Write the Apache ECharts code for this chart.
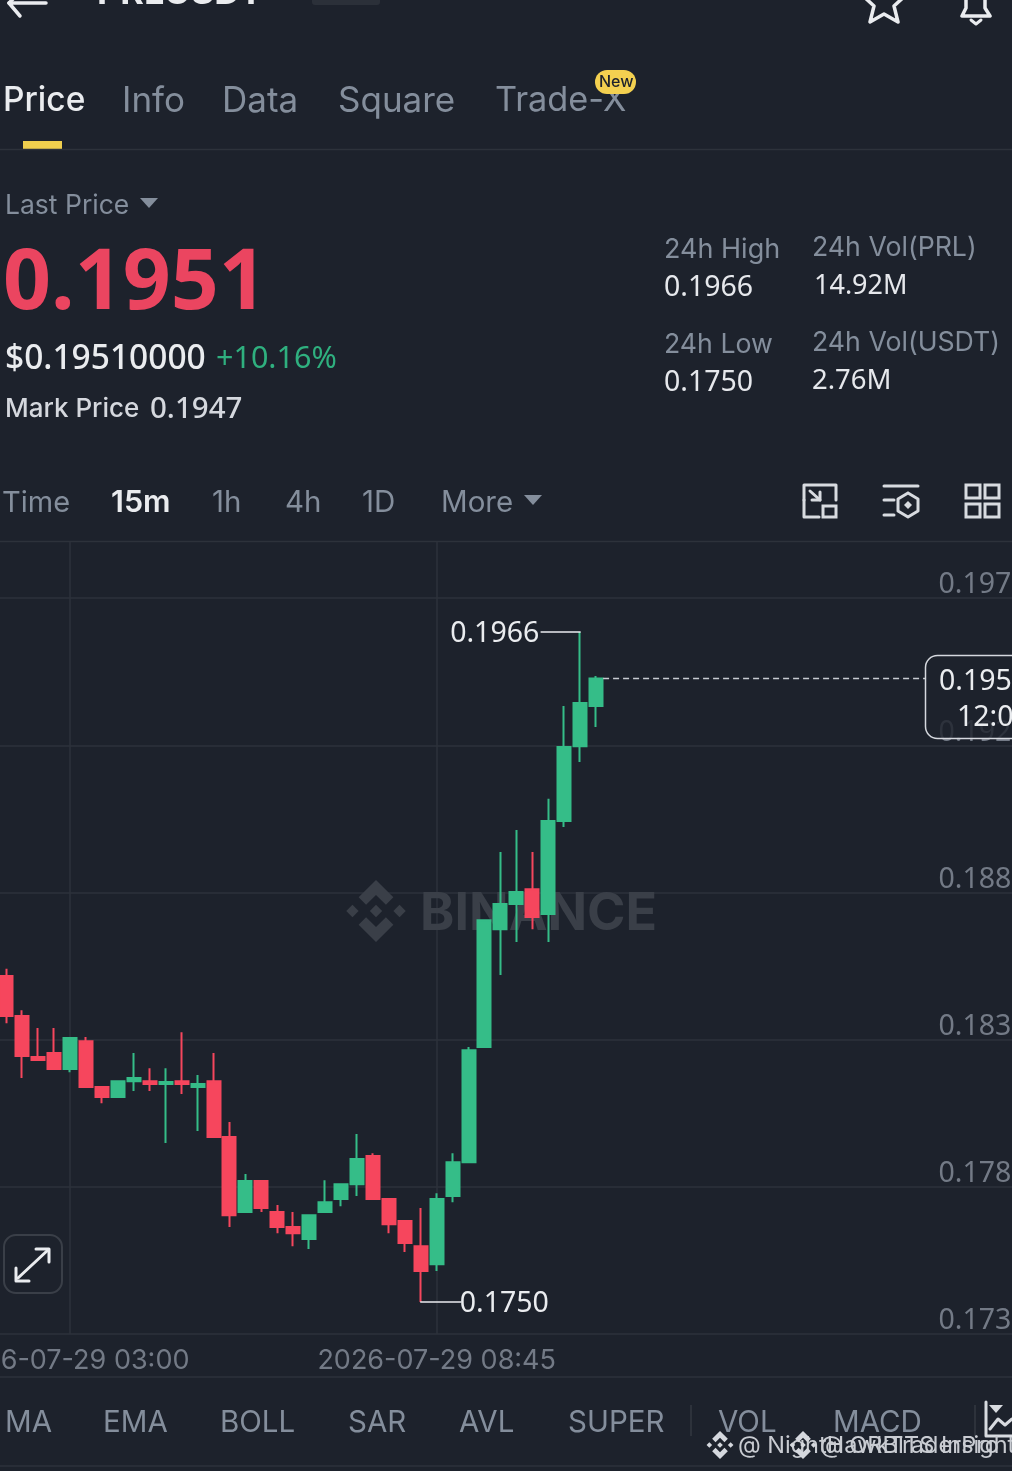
<!DOCTYPE html>
<html><head><meta charset="utf-8">
<style>html,body{margin:0;padding:0;background:#1D222C;overflow:hidden}#c{width:1012px;height:1471px}</style>
<script src="https://cdn.jsdelivr.net/npm/echarts@6/dist/echarts.min.js"></script>
</head><body><div id="c"></div>
<script>
const times = ['02:00','02:15','02:30','02:45','03:00','03:15','03:30','03:45','04:00','04:15','04:30','04:45','05:00','05:15','05:30','05:45','06:00','06:15','06:30','06:45','07:00','07:15','07:30','07:45','08:00','08:15','08:30','08:45','09:00','09:15','09:30','09:45','10:00','10:15','10:30','10:45','11:00','11:15'];
const opens  = [.18551,.18422,.18290,.18303,.18251,.18341,.18193,.18161,.18212,.18212,.18203,.18212,.18193,.18212,.18032,.17790,.17890,.17790,.17742,.17703,.17790,.17832,.17880,.17971,.17832,.17761,.17680,.17622,.17842,.17951,.18322,.18702,.18783,.18831,.18751,.19051,.19292,.19421];
const closes = [.18422,.18293,.18280,.18251,.18351,.18193,.18161,.18212,.18222,.18203,.18209,.18203,.18203,.18032,.17780,.17890,.17803,.17742,.17722,.17780,.17822,.17880,.17961,.17832,.17751,.17690,.17600,.17832,.17951,.18312,.18731,.18783,.18822,.18741,.19051,.19289,.19431,.19510];
const lows   = [.18399,.18222,.18280,.18251,.18241,.18193,.18141,.18161,.18180,.18180,.18013,.18171,.18051,.18032,.17742,.17790,.17790,.17722,.17680,.17671,.17790,.17809,.17842,.17832,.17722,.17661,.17500,.17600,.17822,.17951,.18322,.18554,.18661,.18702,.18661,.19031,.19241,.19354];
const highs  = [.18574,.18441,.18383,.18383,.18351,.18354,.18193,.18212,.18303,.18254,.18254,.18370,.18232,.18303,.18080,.17913,.17890,.17813,.17790,.17780,.17893,.17880,.18042,.17980,.17832,.17761,.17803,.17851,.17980,.18322,.18731,.18951,.19022,.18951,.19122,.19421,.19660,.19518];
const yTickValues = [.17397,.17871,.18345,.18819,.19293,.19770];
const yTickLabels = ['0.173','0.178','0.183','0.188','0.192','0.197'];
const dateLabelIdx = [4,27];
const tabs = [['Price',3,'#EAECEF'],['Info',122,'#848E9C'],['Data',222,'#848E9C'],['Square',338,'#848E9C'],['Trade-X',495,'#848E9C']];
const intervals = [['15m',111],['1h',212],['4h',285],['1D',362],['More',441]];
const indicators = [['MA',5],['EMA',103],['BOLL',220],['SAR',348],['AVL',459],['SUPER',568],['VOL',718],['MACD',833]];

const BG='#1D222C',RED='#F6465D',GREEN='#35BD88',GRAY='#848E9C',WHITE='#E6E8EC',LINE='#2D323B',AXISTXT='#737A86';
const FONT='Inter, "Noto Sans", sans-serif', NUM='"Noto Sans", sans-serif';
const cats = times.map(t=>'2026-07-29 '+t);
while(cats.length<64) cats.push('');
const candle = times.map((_,i)=>[opens[i],closes[i],lows[i],highs[i]]);
const step=15.94, firstX=6.3;
const chart = echarts.init(document.getElementById('c'),null,{renderer:'canvas'});
chart.setOption({
  animation:false, backgroundColor:BG,
  grid:{left:firstX-step/2,top:542,width:step*64,height:792,containLabel:false,outerBoundsMode:'none'},
  xAxis:{type:'category',data:cats,boundaryGap:true,
    axisLine:{show:false},axisTick:{show:false},
    splitLine:{show:true,alignWithLabel:true,interval:i=>dateLabelIdx.includes(i),lineStyle:{color:LINE,width:1.5}},
    axisLabel:{interval:i=>dateLabelIdx.includes(i),margin:13,fontSize:27,color:AXISTXT,fontFamily:FONT,hideOverlap:false}},
  yAxis:{type:'value',position:'right',min:.17397,max:.1995,scale:true,
    axisLine:{show:false},
    axisTick:{show:false,customValues:yTickValues},
    splitLine:{show:true,lineStyle:{color:LINE,width:1.5}},
    axisLabel:{inside:true,customValues:yTickValues,margin:80,align:'left',verticalAlign:'bottom',lineHeight:26,fontSize:28.5,color:AXISTXT,fontFamily:NUM,
      formatter:v=>yTickLabels[yTickValues.indexOf(v)]||''}},
  series:[{type:'candlestick',data:candle,barWidth:13.5,clip:false,
    itemStyle:{color:GREEN,color0:RED,borderColor:GREEN,borderColor0:RED,borderWidth:2,opacity:1}}]
});

const els=[];
function T(text,x,y,size,fill,weight,z){els.push({type:'text',z:z==null?10:z,style:{text,x,y:y+2,fontSize:size,fontFamily:FONT,fontWeight:weight||400,fill,align:'left',verticalAlign:'middle'}});}
function N(text,x,y,size,fill,weight){els.push({type:'text',z:10,style:{text,x,y:y+2,fontSize:size,fontFamily:NUM,fontWeight:weight||400,fill,align:'left',verticalAlign:'middle'}});}
function PL(points,stroke,w,extra){els.push({type:'polyline',z:10,shape:{points},style:Object.assign({stroke,lineWidth:w,fill:null,lineCap:'round',lineJoin:'round'},extra||{})});}
function PG(points,fill,z){els.push({type:'polygon',z:z==null?10:z,shape:{points},style:{fill}});}
function R(x,y,w,h,r,style,z){els.push({type:'rect',z:z==null?10:z,shape:{x,y,width:w,height:h,r},style});}
function HL(y,c){els.push({type:'line',z:10,shape:{x1:0,y1:y,x2:1012,y2:y},style:{stroke:c||LINE,lineWidth:1.5}});}
function logo(cx,cy,s,fill,z){
  const d=(x,y,r)=>PG([[x-r,y],[x,y-r],[x+r,y],[x,y+r]],fill,z);
  d(cx,cy,s*.2); d(cx-s*.76,cy,s*.2); d(cx+s*.76,cy,s*.2);
  PG([[cx,cy-s],[cx+s*.56,cy-s*.44],[cx+s*.32,cy-s*.2],[cx,cy-s*.52],[cx-s*.32,cy-s*.2],[cx-s*.56,cy-s*.44]],fill,z);
  PG([[cx,cy+s],[cx+s*.56,cy+s*.44],[cx+s*.32,cy+s*.2],[cx,cy+s*.52],[cx-s*.32,cy+s*.2],[cx-s*.56,cy+s*.44]],fill,z);
}
// top bar (cut by the top edge)
PL([[46,3],[9,3],[20,16]],'#EAECEF',3.5);
PL([[9,3],[22,-10]],'#EAECEF',3.5);
T('PRLUSDT',97,-9,36,'#EAECEF',700);
R(312,-20,68,25,3,{fill:'#2B3039'});
PL([[884,-22],[890,-6],[906,-5],[894,6],[898,22],[884,14],[870,22],[874,6],[862,-5],[878,-6],[884,-22]],'#EAECEF',3.5);
PL([[962,16],[966,8],[966,-6],[985,-6],[985,8],[990,16],[962,16]],'#EAECEF',3.5);
PL([[971,20],[976,24],[981,20]],'#EAECEF',3);
// tabs
tabs.forEach(t=>T(t[0],t[1],99,t===tabs[0]?33.5:t[0]==='Trade-X'?34.3:35,t[2],t===tabs[0]?500:400));
R(23,141,39,8,0,{fill:'#F0CF4E'});
HL(149.5);
R(595,70,41,24,12,{fill:'#F3D050'});
T('New',599,80,16,'#1D222C',500);
// quote
T('Last Price',5,204,26.5,GRAY,400);
PG([[140,198],[158,198],[149,208]],GRAY);
N('0.1951',3,283,84,'#EB4560',700);
N('$0.19510000',5,357,33.5,'#EAECEF',500);
N('+10.16%',216,357,30.5,'#2FB07F',400);
T('Mark Price',5,407,26,'#D5D8DE',500);
N('0.1947',150,408,29.5,'#D5D8DE',500);
T('24h High',664,248,27,GRAY,400);
N('0.1966',664,286,28.5,WHITE,400);
T('24h Vol(PRL)',812,246,26.7,GRAY,400);
N('14.92M',814,284,27,WHITE,400);
T('24h Low',664,343,26.7,GRAY,400);
N('0.1750',664,381,28.5,WHITE,400);
T('24h Vol(USDT)',812,341,26.7,GRAY,400);
N('2.76M',812,379,27.5,WHITE,400);
// interval row
T('Time',2,501,29,GRAY,400);
intervals.forEach((t,i)=>T(t[0],t[1],501,i===0?30.5:29.5,i===0?'#EAECEF':GRAY,i===0?600:400));
PG([[524,495],[542,495],[533,505]],GRAY);
PL([[804,500],[804,517],[819,517]],'#D8DBE0',3);
PL([[804,500],[804,485],[836,485],[836,500]],'#D8DBE0',3);
R(823,506,13,11,0,{fill:null,stroke:'#D8DBE0',lineWidth:3});
PL([[810,491],[820,500]],'#D8DBE0',3);PL([[820,492],[820,500],[812,500]],'#D8DBE0',3);
PL([[884,486],[918,486]],'#D8DBE0',3);PL([[884,500],[894,500]],'#D8DBE0',3);PL([[884,515],[894,515]],'#D8DBE0',3);
PL([[908,493],[918,499],[918,511],[908,517],[898,511],[898,499],[908,493]],'#D8DBE0',3);
PG([[908,501],[912,505],[908,509],[904,505]],'#D8DBE0');
[[966,485],[985,485],[966,504],[985,504]].forEach(p=>R(p[0],p[1],14,13,0,{fill:null,stroke:'#D8DBE0',lineWidth:3}));
HL(541.5);
// watermark
logo(376,911,31,'#3A3F48',1);
T('BINANCE',420,912,52,'#3A3F48',700,1);
// expand button
R(4,1235,58,58,12,{fill:BG,stroke:'#3A3F48',lineWidth:2});
PL([[18,1278],[48,1250]],'#EAECEF',3);PL([[36,1249],[49,1249],[49,1262]],'#EAECEF',3);PL([[16,1268],[16,1281],[29,1281]],'#EAECEF',3);
// bottom rows
HL(1377);HL(1466);
indicators.forEach(t=>T(t[0],t[1],1421,29.5,GRAY,400));
els.push({type:'line',z:10,shape:{x1:691,y1:1405,x2:691,y2:1436},style:{stroke:LINE,lineWidth:2}});
els.push({type:'line',z:10,shape:{x1:975,y1:1405,x2:975,y2:1436},style:{stroke:LINE,lineWidth:2}});
PL([[986,1402],[986,1436],[1012,1436]],'#D8DBE0',3);
PG([[989,1405],[1003,1405],[996,1413]],'#D8DBE0');
PL([[990,1429],[998,1419],[1005,1425],[1012,1419]],'#D8DBE0',3);
logo(720,1445,14,'#D5D8DE');
T('@ NightHawkTraderPro',738,1444,23.5,'#C9CCD2',400);
logo(803,1445,14,'#D5D8DE');
T('@ ORBITS Insight',820,1444,23.5,'#C9CCD2',400);
// callouts placed through the chart's own scales
const iH=highs.indexOf(Math.max(...highs)), iL=lows.indexOf(Math.min(...lows)), iLast=times.length-1;
const pH=chart.convertToPixel({seriesIndex:0},[iH,highs[iH]]);
const pL=chart.convertToPixel({seriesIndex:0},[iL,lows[iL]]);
const pC=chart.convertToPixel({seriesIndex:0},[iLast,closes[iLast]]);
PL([[pH[0],pH[1]],[pH[0]-39,pH[1]]],'#EAECEF',1.5);
N(highs[iH].toFixed(4),pH[0]-130,pH[1],28.5,'#EAECEF',400);
PL([[pL[0],pL[1]],[pL[0]+40,pL[1]]],'#EAECEF',1.5);
N(lows[iL].toFixed(4),pL[0]+39,pL[1],28.5,'#EAECEF',400);
PL([[pC[0]+7,pC[1]],[925,pC[1]]],'#C8CBD1',1.5,{lineDash:[6,4],lineCap:'butt'});
R(925.5,pC[1]-23,100,83,12,{fill:'rgba(29,34,44,0.82)',stroke:'#D5D8DE',lineWidth:1.5});
N(closes[iLast].toFixed(3),939,pC[1]+1,28.5,'#EAECEF',400);
N('12:0',957,pC[1]+37,28.5,'#EAECEF',400);
chart.setOption({graphic:{elements:els}});
</script></body></html>
